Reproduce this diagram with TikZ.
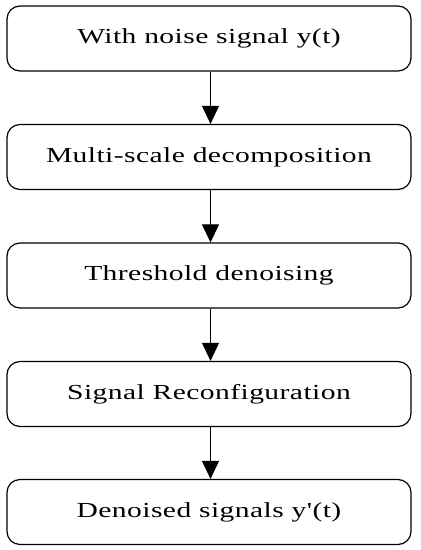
\documentclass[tikz,border=0pt]{standalone}
\usepackage{fontspec}
\newfontfamily\boxfont[FakeStretch=1.38,LetterSpace=2]{Liberation Serif}
\usetikzlibrary{arrows.meta}
\begin{document}
\begin{tikzpicture}[x=1bp,y=-1bp,
  stepbox/.style={draw=black,line width=1.2bp,rounded corners=13bp,minimum width=404bp,minimum height=65bp,inner sep=0pt,font=\boxfont\fontsize{21.5}{24}\selectfont},
  conn/.style={line width=1bp,-{Triangle[length=18bp,width=17bp]}}]
\useasboundingbox[fill=white] (0,0) rectangle (420,550);
\node[stepbox] (a) at (209,38.5) {With noise signal y(t)};
\node[stepbox] (b) at (209,157) {Multi-scale decomposition};
\node[stepbox] (c) at (209,275.5) {Threshold denoising};
\node[stepbox] (d) at (209,394) {Signal Reconfiguration};
\node[stepbox] (e) at (209,512) {Denoised signals y'(t)};
\draw[conn] (a.south) ++(1.5,0) coordinate (a1) -- (a1 |- b.north);
\draw[conn] (b.south) ++(1.5,0) coordinate (b1) -- (b1 |- c.north);
\draw[conn] (c.south) ++(1.5,0) coordinate (c1) -- (c1 |- d.north);
\draw[conn] (d.south) ++(1.5,0) coordinate (d1) -- (d1 |- e.north);
\end{tikzpicture}
\end{document}
